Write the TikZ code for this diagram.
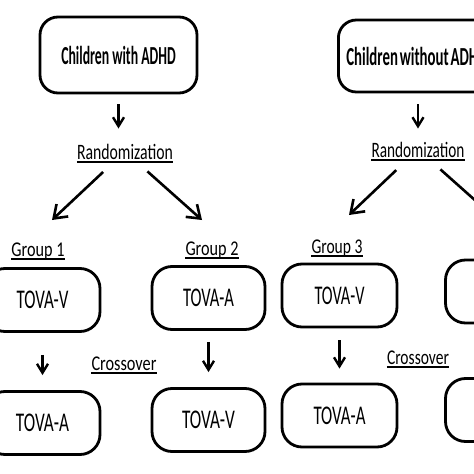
\documentclass[tikz,border=0pt]{standalone}
\usepackage{fontspec}
\setmainfont{Carlito}
\usetikzlibrary{arrows.meta}
\newcommand{\fitw}[3]{\resizebox{#1pt}{\height}{\fontsize{#2}{#2}\selectfont #3}}
\newcommand{\ttl}[2]{\scalebox{#1}[1]{\fontsize{26}{26}\selectfont\bfseries #2}}

\begin{document}
\begin{tikzpicture}
  [x=1pt,y=-1pt,every node/.style={inner sep=0pt},
   box/.style={draw,line width=2.8pt,rounded corners=20pt,minimum width=115pt,minimum height=63pt},
   lbl/.style={anchor=base},
   arr/.style={line width=2.4pt,-{Straight Barb[length=9pt,width=11pt]}},
   diag/.style={line width=2.6pt,-{Straight Barb[length=12pt,width=17pt]}}]
  \useasboundingbox (0,0) rectangle (474,474);
  \clip (0,0) rectangle (474,474);

  \node (top1)[box,minimum width=157pt,minimum height=76pt,rounded corners=18pt] at (118.5,55) {\ttl{.53}{Children with ADHD}};
  \node (top2)[box,anchor=west,inner xsep=8pt,text width=174pt,align=left,minimum height=72pt,rounded corners=18pt] at (337,56) {\ttl{.57}{Children without ADHD}};

  \node (rand1)[lbl] at (125,159) {\fitw{96}{22}{Randomization}};
  \node (rand2)[lbl] at (418,157) {\fitw{93}{22}{Randomization}};
  \node (grp1)[lbl] at (38,256) {\fitw{53}{21}{Group 1}};
  \node (grp2)[lbl] at (212,255) {\fitw{53}{21}{Group 2}};
  \node (grp3)[lbl] at (337,253) {\fitw{51}{21}{Group 3}};
  \node (cross1)[lbl] at (124,370) {\fitw{65}{21}{Crossover}};
  \node (cross2)[lbl] at (418,364) {\fitw{62}{21}{Crossover}};

  \node (g1a)[box] at (42.5,300) {\fitw{52}{27}{TOVA-V}};
  \node (g1b)[box] at (42.5,423) {\fitw{53}{27}{TOVA-A}};
  \node (g2a)[box,minimum width=113pt] at (208.5,298) {\fitw{51}{27}{TOVA-A}};
  \node (g2b)[box,minimum width=113pt] at (208.5,420) {\fitw{53}{27}{TOVA-V}};
  \node (g3a)[box] at (339.5,295.5) {\fitw{50}{27}{TOVA-V}};
  \node (g3b)[box] at (339.5,415.5) {\fitw{52}{27}{TOVA-A}};
  \node (g4a)[box] at (503,291.5) {};
  \node (g4b)[box] at (503,410) {};

  \coordinate (e1) at (52,220);
  \coordinate (e2) at (202,220);
  \coordinate (e3) at (349,215);
  \coordinate (e4) at (495,218);

  \foreach \n in {rand1,rand2,grp1,grp2,grp3,cross1,cross2}
    \draw[line width=1.4pt] ([yshift=-3pt]\n.base west) -- ([yshift=-3pt]\n.base east);

  \draw[arr,shorten <=10pt,shorten >=15pt] (top1.south) -- (top1.south |- rand1.north);
  \draw[arr,shorten <=11pt,shorten >=13pt] (top2.south -| rand2.north) -- (rand2.north);

  \foreach \from/\to/\a/\b in {g1a/g1b/22/15, g2a/g2b/11/15, g3a/g3b/12/14}
    \draw[arr,shorten <=\a pt,shorten >=\b pt] (\from) -- (\to);

  \foreach \from/\to in {rand1/e1,rand1/e2,rand2/e3,rand2/e4}
    \draw[diag,shorten <=30pt] (\from.center) -- (\to);

\end{tikzpicture}
\end{document}
